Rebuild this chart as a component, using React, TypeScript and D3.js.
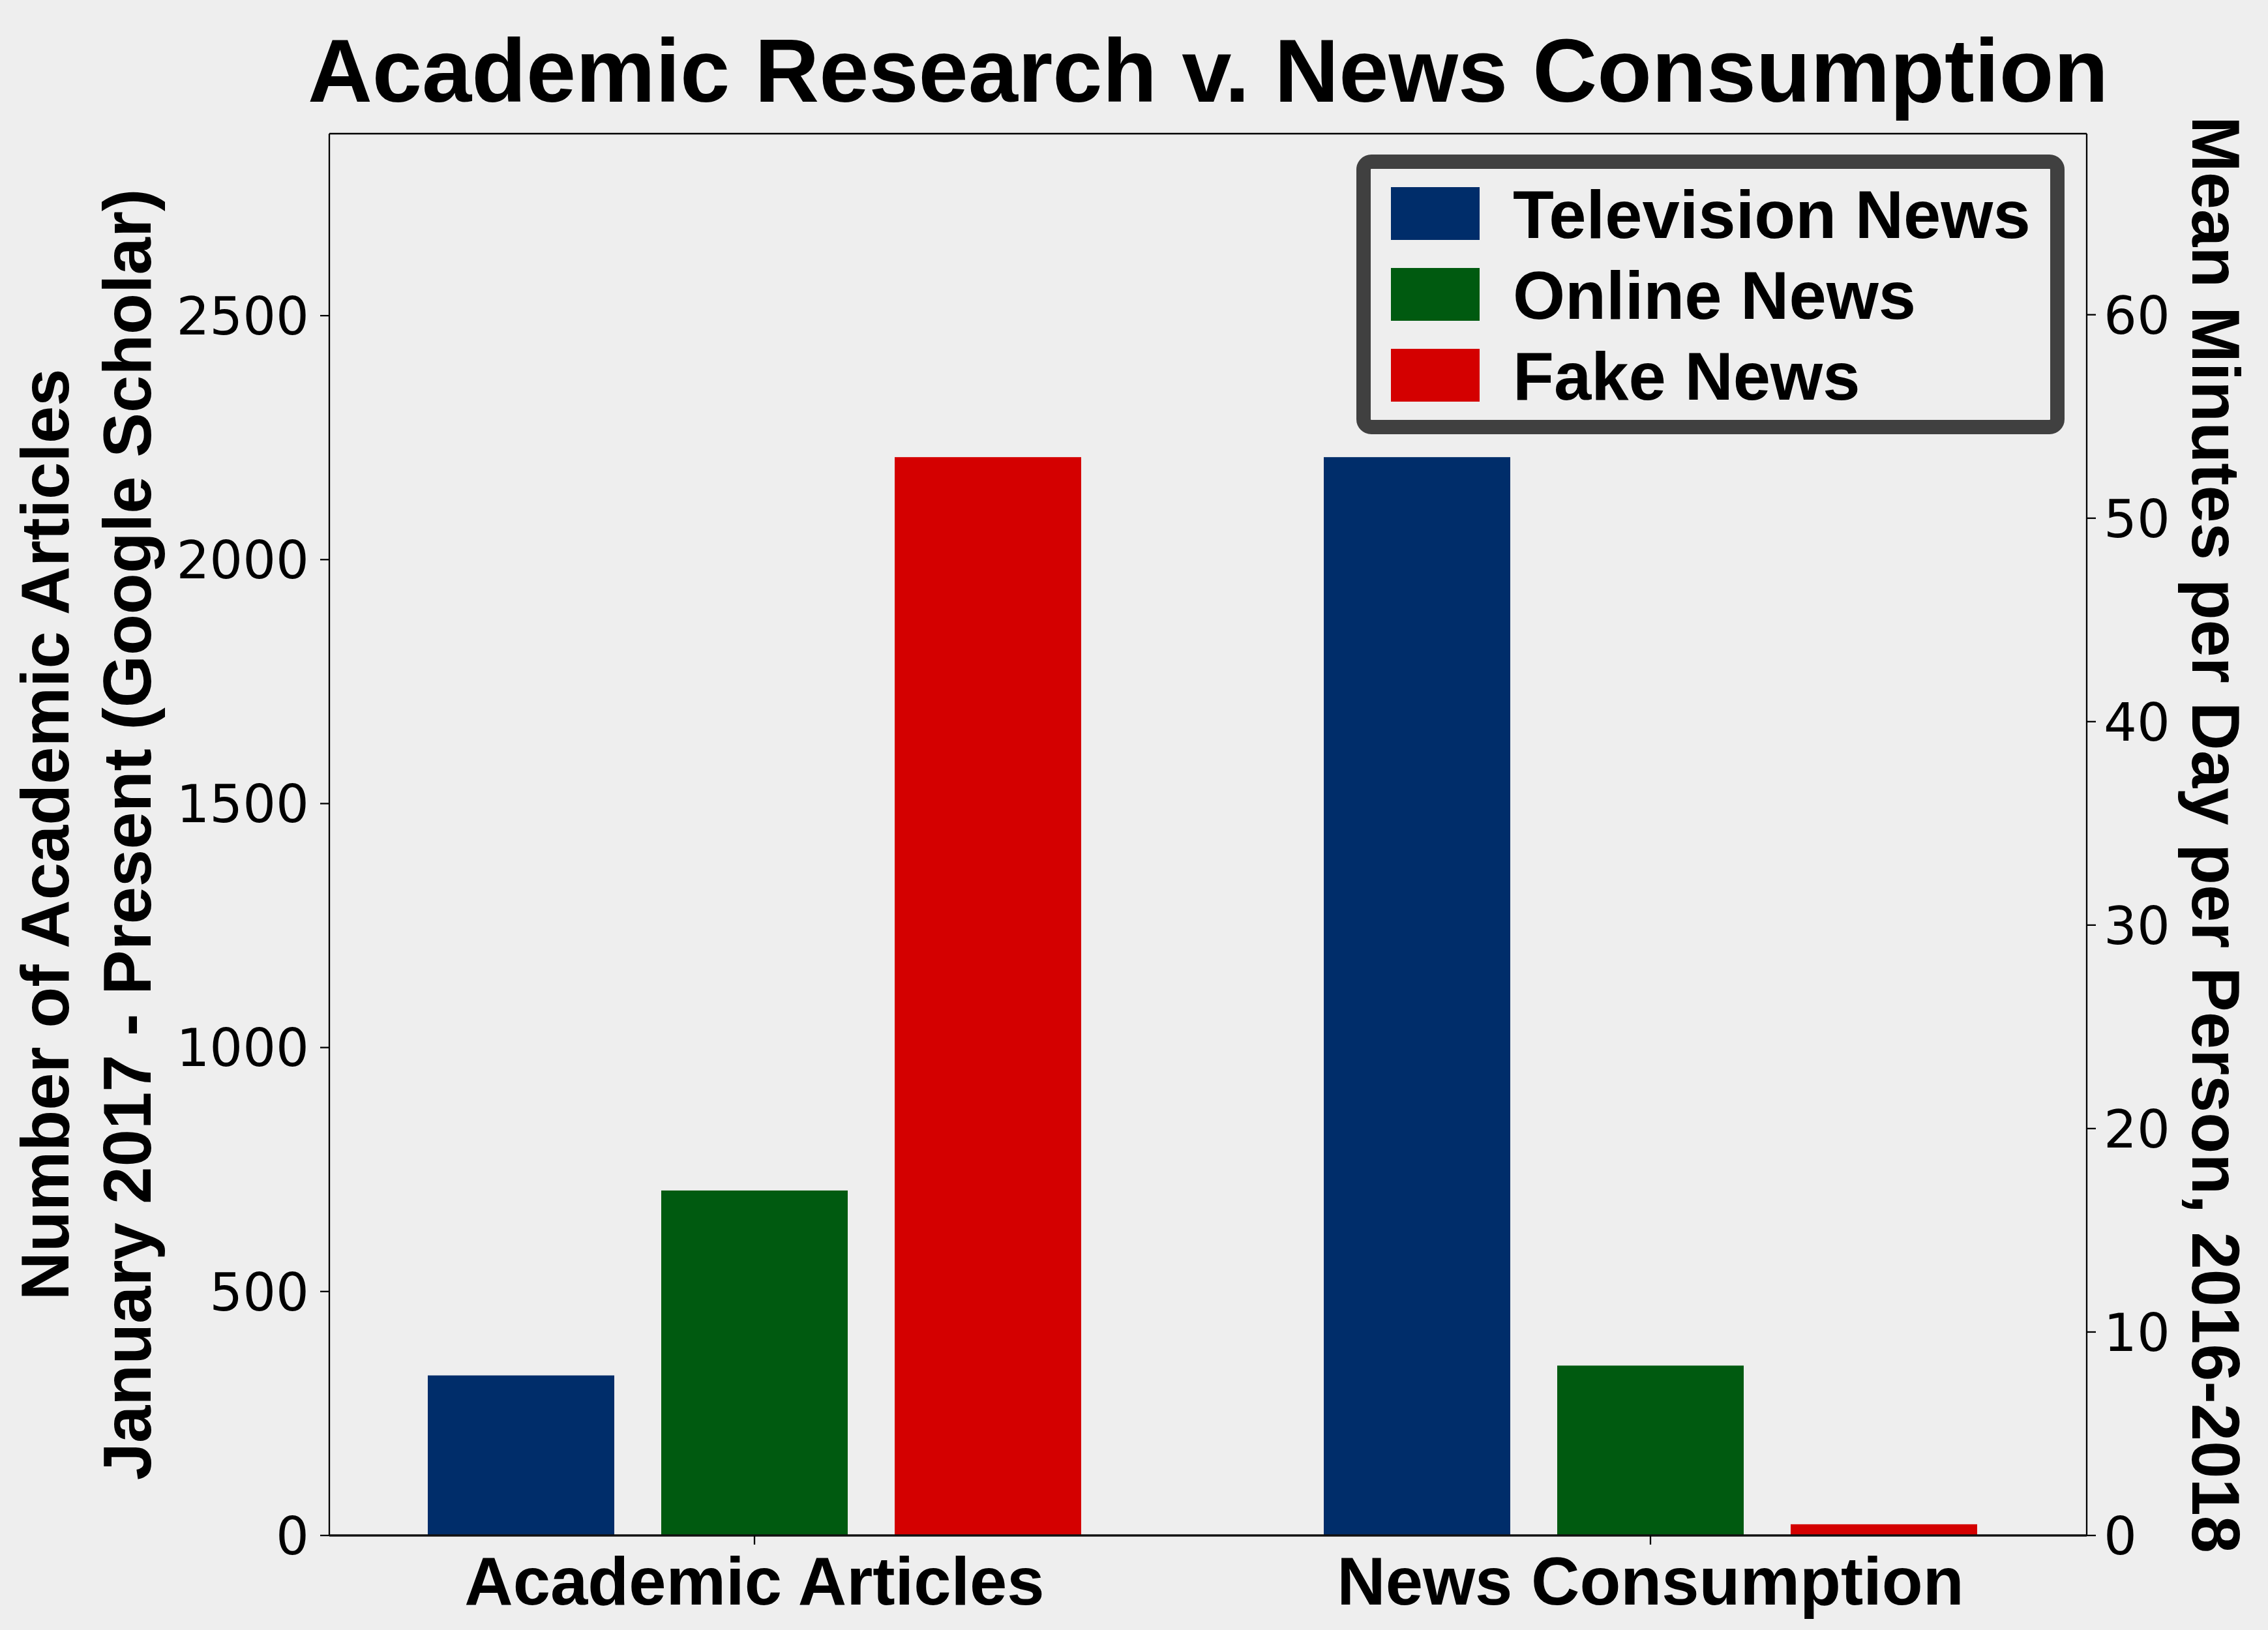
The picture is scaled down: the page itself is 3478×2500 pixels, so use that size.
import React, { useEffect } from 'react';
import * as d3 from 'd3';

// ---- data ----
const categories: string[] = ['Academic Articles', 'News Consumption'];
const seriesNames: string[] = ['Television News', 'Online News', 'Fake News'];
const seriesColors: string[] = ['#002D6A', '#005A10', '#D40000'];
// number of academic articles (left axis)
const academicValues: number[] = [328, 707, 2210];
// mean minutes per day per person (right axis)
const newsValues: number[] = [53, 8.35, 0.55];
const leftTicks: number[] = [0, 500, 1000, 1500, 2000, 2500];
const rightTicks: number[] = [0, 10, 20, 30, 40, 50, 60];

const W = 3478;
const H = 2500;
const M = { left: 505, right: 3200, top: 205, bottom: 2355 };
const BOLD = "'Liberation Sans', Arial, Helvetica, sans-serif";
const TICKFONT = "'DejaVu Sans', sans-serif";

export default function App() {
  useEffect(() => {
    document.body.style.margin = '0';
    document.body.style.background = '#eeeeee';
  }, []);

  const yLeft = d3.scaleLinear().domain([0, d3.max(academicValues)! * 1.3]).range([M.bottom, M.top]);
  const yRight = d3.scaleLinear().domain([0, d3.max(newsValues)! * 1.3]).range([M.bottom, M.top]);
  const x = d3.scaleLinear().domain([-0.47453, 1.4869]).range([M.left, M.right]);
  const offset = 0.26055;
  const barW = 0.20815;

  const groups = [
    { cat: categories[0], values: academicValues, y: yLeft },
    { cat: categories[1], values: newsValues, y: yRight },
  ];

  return (
    <svg width={W} height={H} style={{ position: 'absolute', left: 0, top: 0, display: 'block' }}>
      <rect x={0} y={0} width={W} height={H} fill="#eeeeee" />
      {/* title */}
      <text x={(M.left + M.right) / 2} y={156} textAnchor="middle" fontFamily={BOLD} fontWeight="bold" fontSize={137} fill="#000">
        Academic Research v. News Consumption
      </text>

      {/* bars */}
      {groups.map((g, gi) =>
        g.values.map((v, si) => {
          const cx = gi + (si - 1) * offset;
          const x0 = x(cx - barW / 2);
          const x1 = x(cx + barW / 2);
          return (
            <rect key={`${gi}-${si}`} x={x0} y={g.y(v)} width={x1 - x0} height={M.bottom - g.y(v)} fill={seriesColors[si]} />
          );
        })
      )}

      {/* frame */}
      <line x1={M.left} x2={M.left} y1={M.top} y2={M.bottom} stroke="#000" strokeWidth={2.3} />
      <line x1={M.right} x2={M.right} y1={M.top} y2={M.bottom} stroke="#000" strokeWidth={2.3} />
      <line x1={M.left} x2={M.right} y1={M.top} y2={M.top} stroke="#000" strokeWidth={2.3} />
      <line x1={M.left} x2={M.right} y1={M.bottom} y2={M.bottom} stroke="#111" strokeWidth={3.4} />

      {/* left ticks */}
      {leftTicks.map((t) => (
        <g key={`l${t}`}>
          <line x1={M.left - 14} x2={M.left} y1={yLeft(t)} y2={yLeft(t)} stroke="#000" strokeWidth={2.3} />
          <text x={474} y={yLeft(t)} dy="0.36em" textAnchor="end" fontFamily={TICKFONT} fontSize={80} fill="#000">
            {t}
          </text>
        </g>
      ))}
      {/* right ticks */}
      {rightTicks.map((t) => (
        <g key={`r${t}`}>
          <line x1={M.right} x2={M.right + 14} y1={yRight(t)} y2={yRight(t)} stroke="#000" strokeWidth={2.3} />
          <text x={3226} y={yRight(t)} dy="0.36em" textAnchor="start" fontFamily={TICKFONT} fontSize={80} fill="#000">
            {t}
          </text>
        </g>
      ))}
      {/* x ticks */}
      {categories.map((c, i) => (
        <g key={c}>
          <line x1={x(i)} x2={x(i)} y1={M.bottom} y2={M.bottom + 14} stroke="#000" strokeWidth={2.3} />
          <text x={x(i)} y={2461} textAnchor="middle" fontFamily={BOLD} fontWeight="bold" fontSize={103} fill="#000">
            {c}
          </text>
        </g>
      ))}

      {/* left y label */}
      <text transform={`translate(105,${(M.top + M.bottom) / 2}) rotate(-90)`} textAnchor="middle" fontFamily={BOLD} fontWeight="bold" fontSize={103} fill="#000">
        Number of Academic Articles
      </text>
      <text transform={`translate(231,${(M.top + M.bottom) / 2}) rotate(-90)`} textAnchor="middle" fontFamily={BOLD} fontWeight="bold" fontSize={103} fill="#000">
        January 2017 - Present (Google Scholar)
      </text>
      {/* right y label */}
      <text transform={`translate(3362,${(M.top + M.bottom) / 2}) rotate(90)`} textAnchor="middle" fontFamily={BOLD} fontWeight="bold" fontSize={103} fill="#000">
        Mean Minutes per Day per Person, 2016-2018
      </text>

      {/* legend */}
      <rect x={2091} y={248} width={1064} height={407} rx={12} ry={12} fill="#eeeeee" stroke="#404040" strokeWidth={22} />
      {seriesNames.map((s, i) => (
        <g key={s}>
          <rect x={2133} y={287 + i * 124} width={136} height={81} fill={seriesColors[i]} />
          <text x={2320} y={365 + i * 124} fontFamily={BOLD} fontWeight="bold" fontSize={103} fill="#000">
            {s}
          </text>
        </g>
      ))}
    </svg>
  );
}
